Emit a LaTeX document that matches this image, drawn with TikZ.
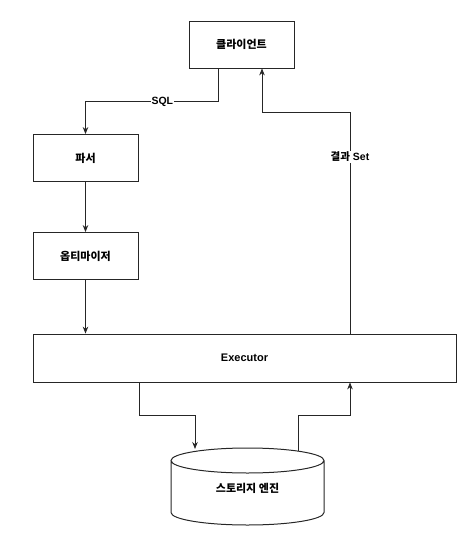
\documentclass[tikz,border=0pt]{standalone}
\usepackage{fontspec}
\setmainfont{Liberation Sans}
\newfontfamily\kr{Noto Sans CJK KR}
\usetikzlibrary{arrows.meta,calc}
\tikzset{
  box/.style={draw=black!85,line width=0.8pt,minimum width=105pt,minimum height=47pt,inner sep=0pt,font=\bfseries\fontsize{11}{13}\selectfont},
  arr/.style={draw=black!85,line width=0.8pt,-{Stealth[length=7pt,width=5.5pt]}},
  lbl/.style={fill=white,inner sep=1pt,font=\bfseries\fontsize{10.5}{12}\selectfont}
}
\begin{document}
\begin{tikzpicture}[x=1pt,y=-1pt]
      \useasboundingbox (0,0) rectangle (474,541);
      \node[box] (client) at (241.5,44.5) {\kr 클라이언트};
      \node[box] (parser) at (85.5,158) {\kr 파서};
      \node[box] (optimizer) at (85.5,256) {\kr 옵티마이저};
      \node[box,minimum width=423pt,minimum height=48pt] (executor) at (244.5,358) {Executor};
      \draw[draw=black!85,line width=1pt]
        (171,460.5) -- (171,512.5) arc[start angle=180,end angle=360,x radius=76.5,y radius=-12.5]
        -- (324,460.5) arc[start angle=0,end angle=-180,x radius=76.5,y radius=12.5]
        (247.5,460.5) ellipse[x radius=76.5,y radius=12.5];
      \node[font=\bfseries\fontsize{11}{13}\selectfont] (engine) at (247.5,488) {\kr 스토리지 엔진};
      \coordinate (dbin) at (195,449);
      \coordinate (dbout) at (298,451);
      \draw[arr] ([xshift=-23.5pt]client.south) -- ++(0,33) -| node[lbl,pos=0.21]{SQL} (parser.north);
      \draw[arr] (parser) -- (optimizer);
      \draw[arr] (optimizer.south) -- (optimizer.south |- executor.north);
      \draw[arr] ([xshift=105.5pt]executor.north) -- node[lbl,pos=0.8]{{\kr 결과} Set} ++(0,-221) -| ([xshift=20.5pt]client.south);
      \draw[arr] ([xshift=-105.5pt]executor.south) -- ++(0,33) -| (dbin);
      \draw[arr] (dbout) -- ++(0,-36) -| ([xshift=105.5pt]executor.south);
    \end{tikzpicture}
\end{document}
